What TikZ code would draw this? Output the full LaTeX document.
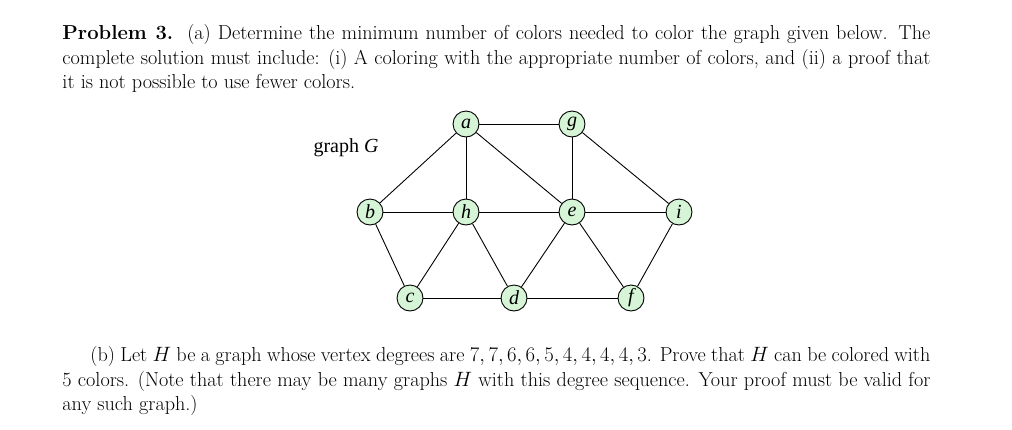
\documentclass[tikz,border=0pt]{standalone}
\usepackage{fontspec}
\newfontfamily\gfont{Liberation Serif}
\definecolor{vgreen}{RGB}{214,244,214}
\begin{document}
\begin{tikzpicture}[x=1pt,y=-1pt,
  vert/.style={circle,draw,fill=vgreen,minimum size=26pt,inner sep=0pt,font=\gfont\fontsize{20}{20}\selectfont\itshape},
  txt/.style={anchor=north west,inner sep=0pt,text width=868pt,align=justify,font=\fontsize{20.2}{24.6}\selectfont},
  every path/.style={line width=0.9pt}]
\useasboundingbox (0,0) rectangle (1012,429);
\node[txt] (p1) at (62,24) {\textbf{Problem 3.}\ \ (a) Determine the minimum number of colors needed to color the graph given below. The complete solution must include: (i) A coloring with the appropriate number of colors, and (ii) a proof that it is not possible to use fewer colors.};
\node[txt] (p2) at (62,346) {\hspace*{28pt}(b) Let $H$ be a graph whose vertex degrees are $7,7,6,6,5,4,4,4,4,3$. Prove that $H$ can be colored with 5 colors. (Note that there may be many graphs $H$ with this degree sequence. Your proof must be valid for any such graph.)};
\node[font=\gfont\fontsize{20}{20}\selectfont] (lbl) at (346,148) {graph \textit{G}};
\node[vert] (a) at (466,124) {a};
\node[vert] (g) at (572,124) {g};
\node[vert] (b) at (370,212) {b};
\node[vert] (h) at (466,212) {h};
\node[vert] (e) at (572,212) {e};
\node[vert] (i) at (679,212) {i};
\node[vert] (c) at (410,298) {c};
\node[vert] (d) at (514,298) {d};
\node[vert] (f) at (631,298) {f};
\foreach \u/\v in {a/g,a/b,a/h,a/e,g/e,g/i,b/h,h/e,e/i,b/c,h/c,h/d,e/d,e/f,i/f,c/d,d/f}
  \draw (\u) -- (\v);
\end{tikzpicture}
\end{document}
